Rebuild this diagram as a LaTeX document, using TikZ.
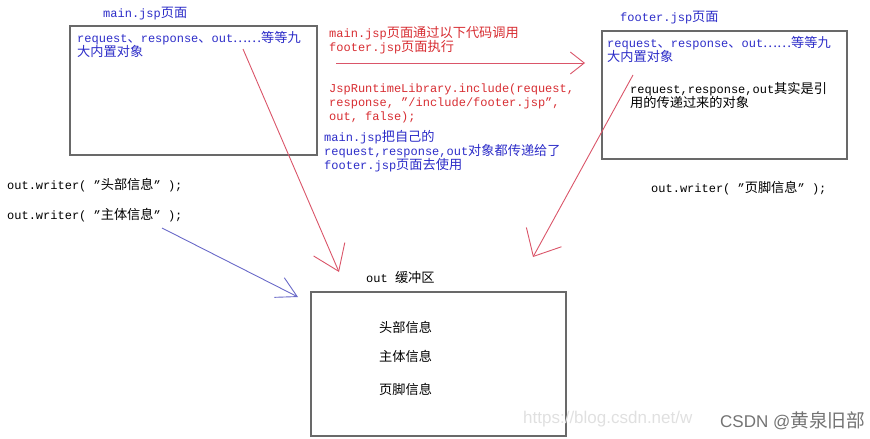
\documentclass[tikz,border=0pt]{standalone}
\usepackage{fontspec}
\setmainfont{Liberation Mono}
\newfontfamily\cjk[Scale=1.1]{Noto Sans CJK SC}
\newfontfamily\wmfont{Liberation Sans}
\usetikzlibrary{arrows.meta}
\newcommand{\zh}[1]{{\cjk #1}}
\definecolor{txtblue}{RGB}{45,45,200}
\definecolor{txtred}{RGB}{215,45,50}
\definecolor{linered}{RGB}{218,85,105}
\definecolor{lineblue}{RGB}{105,105,200}
\definecolor{boxgray}{RGB}{105,105,105}
\begin{document}
\begin{tikzpicture}
  [x=1pt,y=-1pt,
   every node/.style={anchor=north west,inner sep=0pt,align=left,
     font=\fontsize{12}{14}\selectfont},
   page/.style={draw=boxgray,line width=1.1pt,anchor=center},
   redarrow/.style={draw=linered,line width=0.9pt},
   bluearrow/.style={draw=lineblue,line width=0.9pt}]
  \useasboundingbox (0,0) rectangle (870,439);

  % the three boxes
  \node[page,minimum width=247pt,minimum height=129pt] (mainbox) at (193.5,90.5) {};
  \node[page,minimum width=245pt,minimum height=128pt] (footbox) at (724.5,95) {};
  \node[page,minimum width=255pt,minimum height=144pt] (buf) at (438.5,364) {};

  % main.jsp
  \node[text=txtblue] (maintitle) at (103,7) {main.jsp\zh{页面}};
  \node[text=txtblue] (mainobj) at (77,31) {request\zh{、}response\zh{、}out\zh{……等等九}\\\zh{大内置对象}};

  % middle texts
  \node[text=txtred] (call) at (329,26) {main.jsp\zh{页面通过以下代码调用}\\footer.jsp\zh{页面执行}};
  \node[text=txtred] (code) at (329,84) {JspRuntimeLibrary.include(request,\\response, "/include/footer.jsp",\\out, false);};
  \node[text=txtblue] (pass) at (324,130) {main.jsp\zh{把自己的}\\request,response,out\zh{对象都传递给了}\\footer.jsp\zh{页面去使用}};

  % footer.jsp
  \node[text=txtblue] (foottitle) at (620,11) {footer.jsp\zh{页面}};
  \node[text=txtblue] (footobj) at (607,36) {request\zh{、}response\zh{、}out\zh{……等等九}\\\zh{大内置对象}};
  \node (ref) at (630,82) {request,response,out\zh{其实是引}\\\zh{用的传递过来的对象}};
  \node (w3) at (651,181) {out.writer( "\zh{页脚信息}" );};

  % writes in main.jsp
  \node (w1) at (7,178) {out.writer( "\zh{头部信息}" );};
  \node (w2) at (7,208) {out.writer( "\zh{主体信息}" );};

  % out buffer
  \node (buftitle) at (366,271) {out \zh{缓冲区}};
  \node (b1) at (379,321) {\zh{头部信息}};
  \node (b2) at (379,350) {\zh{主体信息}};
  \node (b3) at (379,383) {\zh{页脚信息}};

  % arrow ends
  \coordinate (c1) at (243,49);
  \coordinate (c2) at (339,272);
  \coordinate (c3) at (336,63);
  \coordinate (c4) at (585,63);
  \coordinate (c5) at (162,228);
  \coordinate (c6) at (298,297);
  \coordinate (c7) at (633,75);
  \coordinate (c8) at (533,257);

  \draw[redarrow,-{Straight Barb[length=24pt,width=34pt]}] (c1) -- (c2);
  \draw[redarrow,-{Straight Barb[length=14pt,width=22pt]}] (c3) -- (c4);
  \draw[bluearrow,-{Straight Barb[length=20pt,width=22pt]}] (c5) -- (c6);
  \draw[redarrow,-{Straight Barb[length=22pt,width=40pt]}] (c7) -- (c8);

  % watermark
  \node[text=black!12,font=\wmfont\fontsize{17}{20}\selectfont] (url) at (523,411) {https://blog.csdn.net/w};
  \node[text=black!55,font=\wmfont\fontsize{17}{20}\selectfont] (csdn) at (720,411) {CSDN @\zh{黄泉旧部}};
\end{tikzpicture}
\end{document}
